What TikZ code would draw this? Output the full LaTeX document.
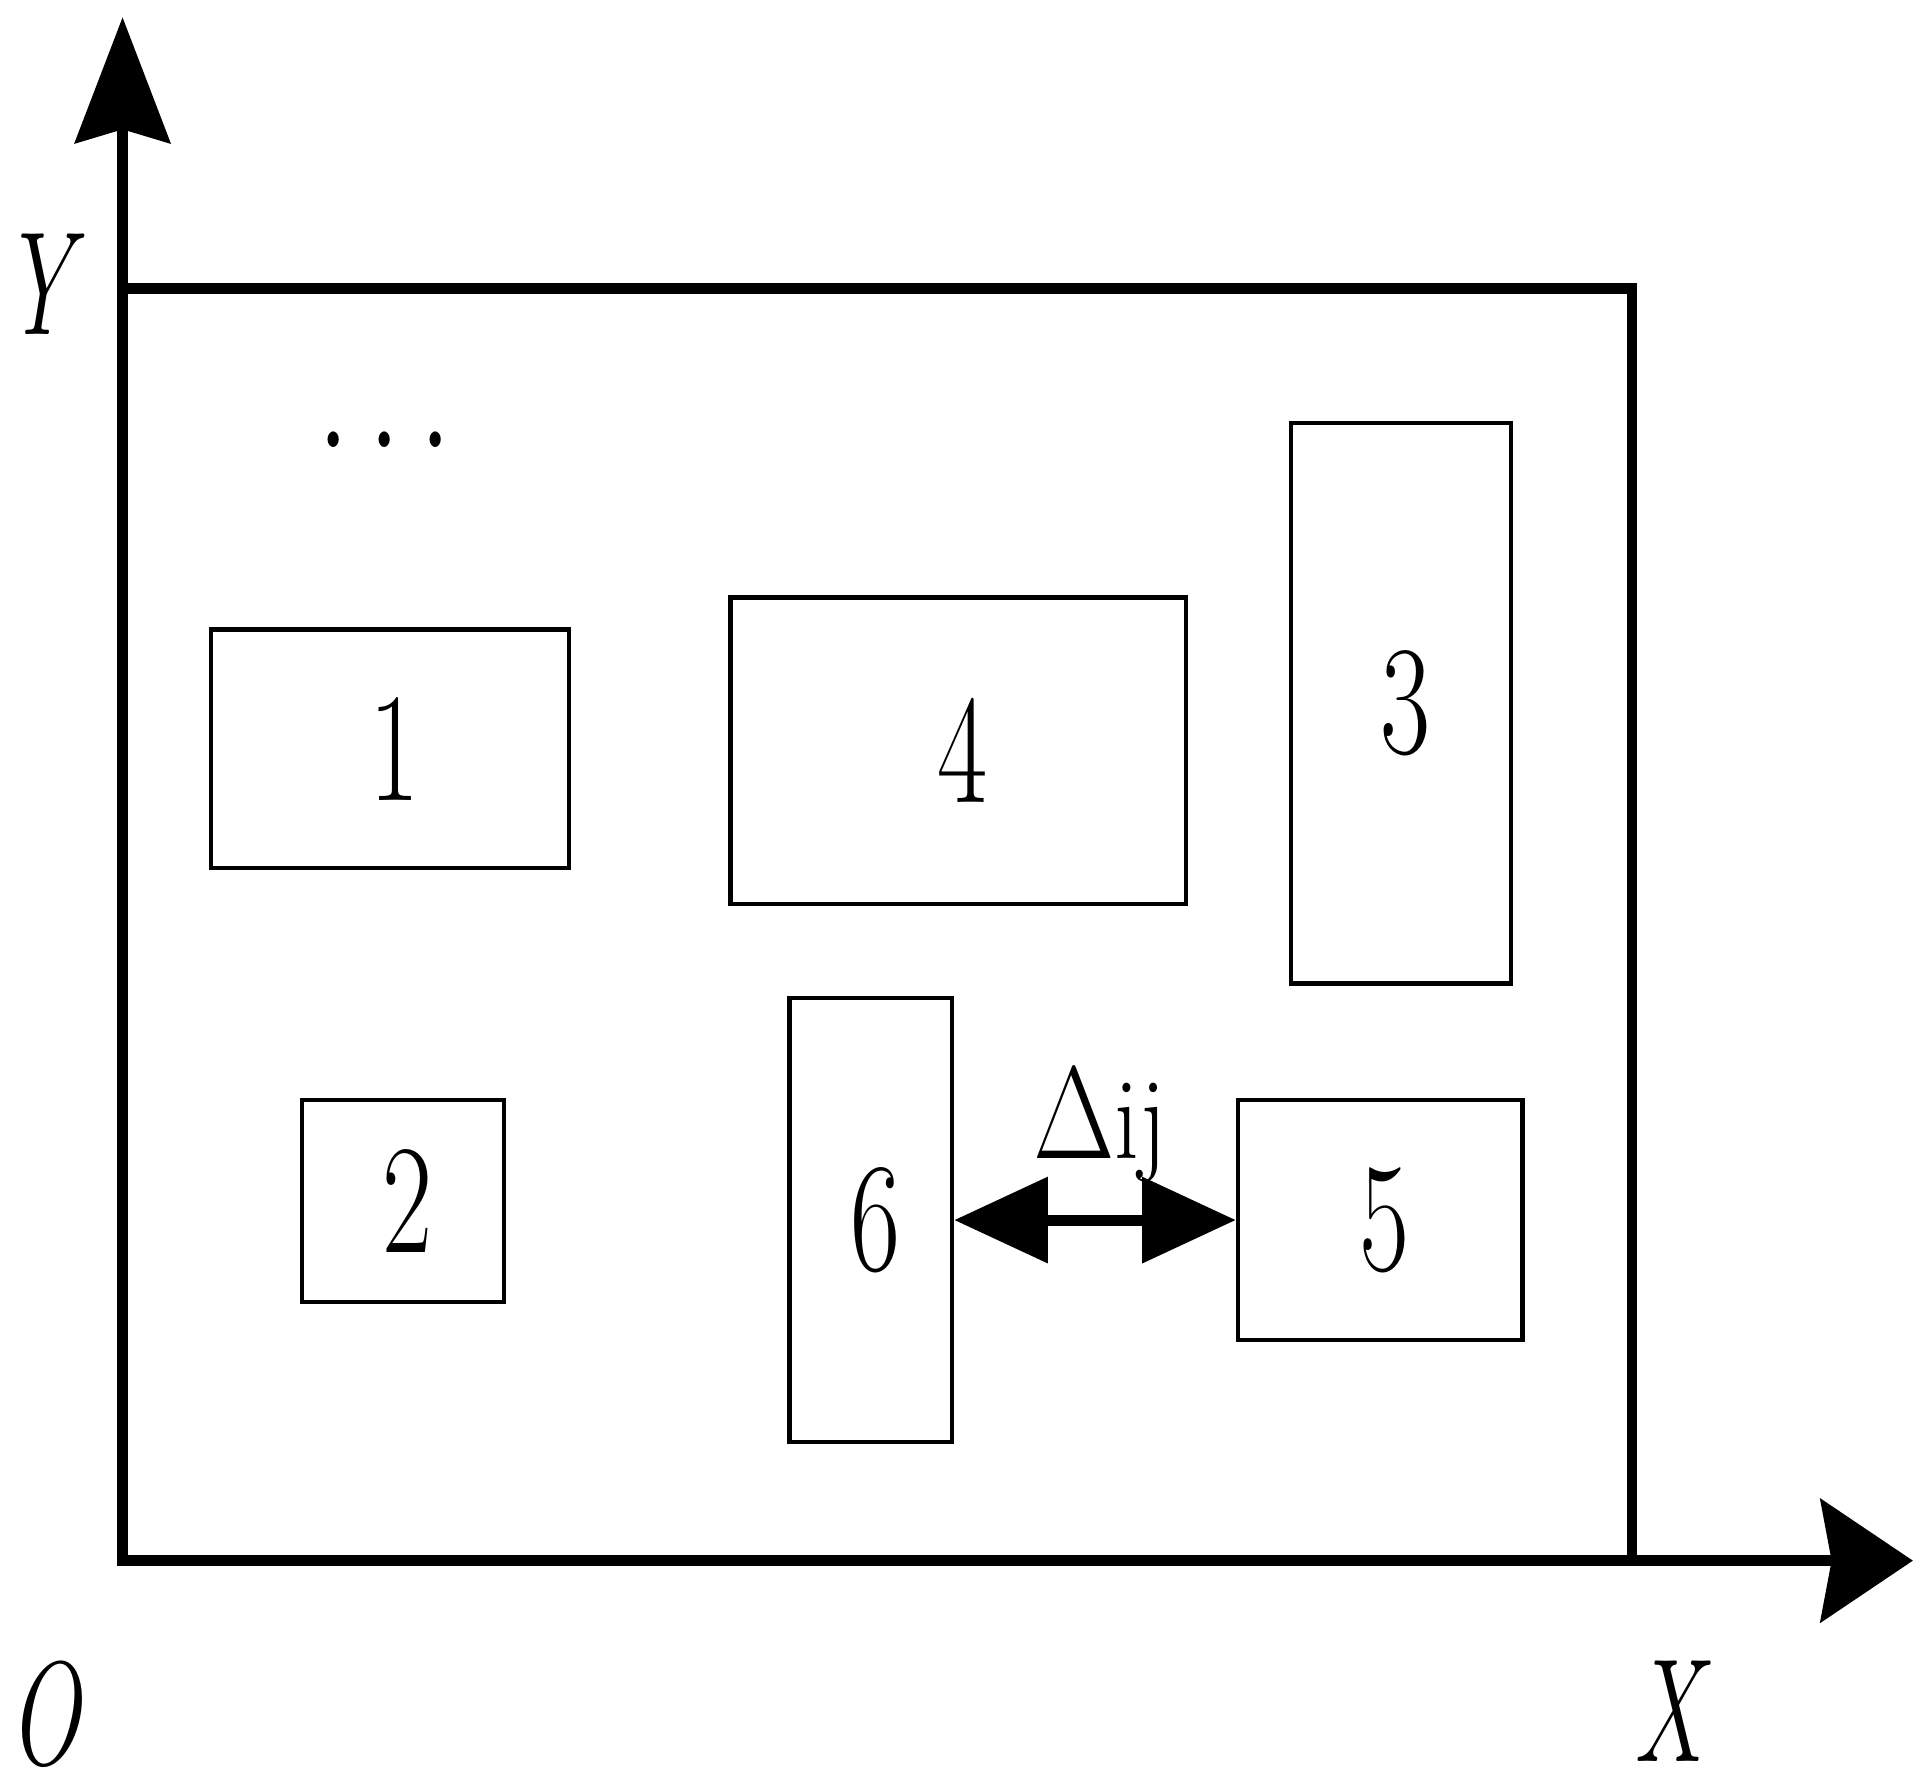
\documentclass[tikz,border=0pt]{standalone}
\usepackage{graphicx}
\usetikzlibrary{arrows.meta}

\newcommand{\narrowtext}[2][0.7]{\scalebox{#1}[1]{#2}}
\newcommand{\partno}[1]{\hspace*{0.7mm}\narrowtext{#1}}

\begin{document}
\begin{tikzpicture}[x=0.1mm,y=-0.1mm,
  frame/.style={line width=0.87mm,line cap=rect},
  part/.style={draw,line width=0.34mm,inner sep=0pt,font=\fontsize{36}{40}\selectfont},
  axislabel/.style={font=\fontsize{34}{38}\selectfont\itshape},
  gap/.style={line width=0.9mm,{Triangle[length=7.6mm,width=6.8mm]}-{Triangle[length=7.6mm,width=6.8mm]}}]
  \path[use as bounding box] (0,0) rectangle (1562,1453);

  % axes and plate
  \coordinate (O) at (99.5,1267);
  \draw[frame,-{Stealth[length=10.2mm,width=7.7mm,inset=1.1mm]}] (O) -- (99.5,14);
  \draw[frame,-{Stealth[length=7.5mm,width=10mm,inset=0.9mm]}] (O) -- (1553,1267);
  \draw[frame] (99.5,234.5) -- (1325,234.5) -- (1325,1267);

  \node[axislabel] (ylab) at (30,231) {\narrowtext[0.65]{Y}};
  \node[axislabel] (olab) at (36,1392) {\narrowtext[0.65]{O}};
  \node[axislabel] (xlab) at (1354,1389) {\narrowtext[0.65]{X}};

  % parts
  \node[part,minimum width=29.1mm,minimum height=19.4mm] (b1) at (316.5,608) {\partno{1}};
  \node[part,minimum width=16.4mm,minimum height=16.4mm] (b2) at (327,975) {\partno{2}};
  \node[part,minimum width=17.9mm,minimum height=45.5mm] (b3) at (1137.5,571) {\partno{3}};
  \node[part,minimum width=37mm,minimum height=24.9mm] (b4) at (778,609.5) {\partno{4}};
  \node[part,minimum width=23.1mm,minimum height=19.5mm] (b5) at (1120.5,990.5) {\partno{5}};
  \node[part,minimum width=13.2mm,minimum height=36mm] (b6) at (707,990.5) {\partno{6}};
  \node[font=\fontsize{44}{48}\selectfont] (dots) at (312,357) {\narrowtext[0.72]{.\kern1.9mm.\kern1.9mm.}};

  % gap between 6 and 5
  \draw[gap] (b6.east) -- node[midway,anchor=base,xshift=0.4mm,yshift=5mm,inner sep=0pt]
    {{\fontsize{24.88}{28}\selectfont\scalebox{0.98}[1.22]{$\Delta$}}{\fontsize{27}{30}\selectfont\narrowtext[0.85]{ij}}} (b5.west);
\end{tikzpicture}
\end{document}
